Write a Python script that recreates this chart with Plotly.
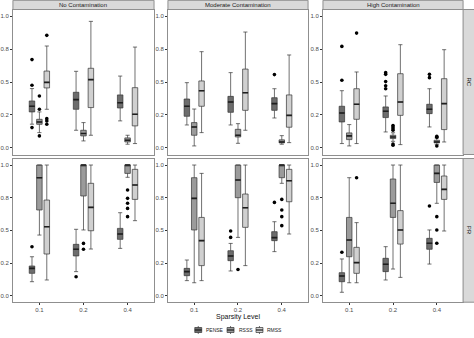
import plotly.graph_objects as go

# ---- data ---------------------------------------------------------------
sparsity = ["0.1", "0.2", "0.4"]
methods = ["PENSE", "RSSS", "RMSS"]
contamination = ["No Contamination", "Moderate Contamination", "High Contamination"]
metrics = ["RC", "PR"]

# five-number summaries per sparsity level: [lower whisker, Q1, median, Q3, upper whisker]
rc_none = {
    "PENSE": [[0.180, 0.273, 0.316, 0.356, 0.450], [0.134, 0.293, 0.366, 0.422, 0.581], [0.205, 0.303, 0.343, 0.402, 0.545]],
    "RSSS": [[0.116, 0.179, 0.197, 0.217, 0.273], [0.053, 0.091, 0.109, 0.134, 0.192], [0.028, 0.045, 0.058, 0.076, 0.096]],
    "RMSS": [[0.293, 0.455, 0.497, 0.583, 0.773], [0.096, 0.306, 0.518, 0.604, 0.960], [0.033, 0.167, 0.255, 0.457, 0.765]],
}
rc_moderate = {
    "PENSE": [[0.174, 0.240, 0.316, 0.371, 0.495], [0.174, 0.270, 0.348, 0.391, 0.571], [0.227, 0.285, 0.336, 0.381, 0.449]],
    "RSSS": [[0.015, 0.096, 0.159, 0.192, 0.295], [0.035, 0.083, 0.096, 0.141, 0.184], [0.028, 0.038, 0.045, 0.061, 0.093]],
    "RMSS": [[0.116, 0.316, 0.434, 0.508, 0.730], [0.134, 0.285, 0.419, 0.598, 0.879], [0.040, 0.157, 0.247, 0.402, 0.705]],
}
rc_high = {
    "PENSE": [[0.033, 0.197, 0.265, 0.316, 0.434], [0.121, 0.230, 0.278, 0.311, 0.394], [0.159, 0.260, 0.293, 0.331, 0.449]],
    "RSSS": [[0.015, 0.063, 0.091, 0.114, 0.177], [0.050, 0.071, 0.083, 0.096, 0.115], [0.025, 0.038, 0.045, 0.058, 0.075]],
    "RMSS": [[0.033, 0.217, 0.331, 0.449, 0.576], [0.025, 0.247, 0.348, 0.563, 0.783], [0.045, 0.139, 0.336, 0.525, 0.745]],
}
pr_none = {
    "PENSE": [[0.107, 0.171, 0.209, 0.227, 0.298], [0.184, 0.304, 0.355, 0.393, 0.508], [0.362, 0.431, 0.472, 0.515, 0.635]],
    "RSSS": [[0.464, 0.656, 0.903, 1.000, 1.000], [0.503, 0.763, 1.000, 1.000, 1.000], [0.906, 0.936, 1.000, 1.000, 1.000]],
    "RMSS": [[0.120, 0.319, 0.528, 0.732, 1.000], [0.357, 0.497, 0.676, 0.860, 1.000], [0.574, 0.737, 0.847, 0.967, 1.000]],
}
pr_moderate = {
    "PENSE": [[0.115, 0.153, 0.184, 0.209, 0.273], [0.189, 0.268, 0.304, 0.344, 0.400], [0.337, 0.421, 0.444, 0.490, 0.566]],
    "RSSS": [[0.099, 0.503, 0.745, 0.903, 1.000], [0.446, 0.750, 0.885, 1.000, 1.000], [0.860, 0.903, 1.000, 1.000, 1.000]],
    "RMSS": [[0.115, 0.230, 0.421, 0.599, 0.936], [0.230, 0.523, 0.673, 0.778, 1.000], [0.472, 0.719, 0.880, 0.967, 1.000]],
}
pr_high = {
    "PENSE": [[0.026, 0.107, 0.151, 0.176, 0.281], [0.120, 0.184, 0.240, 0.286, 0.375], [0.242, 0.355, 0.401, 0.439, 0.503]],
    "RSSS": [[0.099, 0.298, 0.426, 0.599, 0.903], [0.204, 0.599, 0.707, 0.893, 1.000], [0.707, 0.867, 0.936, 1.000, 1.000]],
    "RMSS": [[0.099, 0.171, 0.253, 0.370, 0.559], [0.140, 0.395, 0.503, 0.651, 1.000], [0.495, 0.737, 0.814, 0.916, 1.000]],
}

# outlying points: (method, sparsity index, value)
rc_none_out = [("PENSE", 0, 0.670), ("PENSE", 0, 0.475), ("PENSE", 0, 0.154),
               ("RSSS", 0, 0.394), ("RSSS", 0, 0.293), ("RSSS", 0, 0.091),
               ("RMSS", 0, 0.854), ("RMSS", 0, 0.222), ("RMSS", 0, 0.205), ("RMSS", 0, 0.179)]
rc_moderate_out = [("PENSE", 2, 0.556)]
rc_high_out = [("PENSE", 0, 0.770), ("PENSE", 0, 0.513), ("RMSS", 0, 0.871),
               ("PENSE", 1, 0.571), ("PENSE", 1, 0.558), ("PENSE", 1, 0.503), ("PENSE", 1, 0.472), ("PENSE", 1, 0.449),
               ("RSSS", 1, 0.170), ("RSSS", 1, 0.158), ("RSSS", 1, 0.146), ("RSSS", 1, 0.134), ("RSSS", 1, 0.030), ("RSSS", 1, 0.020),
               ("PENSE", 2, 0.558), ("PENSE", 2, 0.533),
               ("RSSS", 2, 0.088), ("RSSS", 2, 0.080), ("RSSS", 2, 0.015)]
pr_none_out = [("PENSE", 0, 0.375), ("PENSE", 1, 0.145), ("RSSS", 1, 0.400), ("RSSS", 1, 0.355),
               ("RSSS", 2, 0.809), ("RSSS", 2, 0.745), ("RSSS", 2, 0.707), ("RSSS", 2, 0.668), ("RSSS", 2, 0.605)]
pr_moderate_out = [("PENSE", 1, 0.495), ("PENSE", 1, 0.446), ("RSSS", 1, 0.200),
                   ("PENSE", 2, 0.714), ("RSSS", 2, 0.737), ("RSSS", 2, 0.656), ("RSSS", 2, 0.605), ("RSSS", 2, 0.536)]
pr_high_out = [("PENSE", 0, 0.332), ("RMSS", 0, 0.903),
               ("PENSE", 2, 0.686), ("RSSS", 2, 0.605), ("RSSS", 2, 0.503), ("RSSS", 2, 0.401)]

y_tickvals = [0.0, 0.25, 0.5, 0.75, 1.0]
y_ticktext = ["0.0", "0.2", "0.5", "0.8", "1.0"]

panels = [[rc_none, rc_moderate, rc_high], [pr_none, pr_moderate, pr_high]]
outliers = [[rc_none_out, rc_moderate_out, rc_high_out], [pr_none_out, pr_moderate_out, pr_high_out]]

# ---- styling ------------------------------------------------------------
fills = {"PENSE": "#6d6d6d", "RSSS": "#9b9b9b", "RMSS": "#d0d0d0"}
dodge = {"PENSE": -0.168, "RSSS": 0.0, "RMSS": 0.168}
box_w = 0.125
edge = "#333333"
border = "#8f8f8f"
strip_fill = "#d9d9d9"

W, H = 474, 338
col_px = [(10, 152), (166, 307), (322, 463)]
row_px = [(9.5, 154.5), (158.5, 302.2)]


def fx(px):
    return px / W


def fy(py):
    return 1 - py / H


fig = go.Figure()
layout_axes = {}
shapes = []
annotations = []

for r, metric in enumerate(metrics):
    for c, cont in enumerate(contamination):
        k = r * 3 + c + 1
        xa = "x" if k == 1 else f"x{k}"
        ya = "y" if k == 1 else f"y{k}"
        stats = panels[r][c]
        for m in methods:
            s = stats[m]
            xs = [i + 1 + dodge[m] for i in range(len(sparsity))]
            fig.add_trace(go.Box(
                x=xs,
                lowerfence=[v[0] for v in s], q1=[v[1] for v in s], median=[v[2] for v in s],
                q3=[v[3] for v in s], upperfence=[v[4] for v in s],
                width=box_w, whiskerwidth=0.75, boxpoints=False,
                fillcolor=fills[m], line=dict(color=edge, width=0.7),
                xaxis=xa, yaxis=ya, showlegend=False, hoverinfo="skip",
            ))
            # heavier median bar
            mx, my = [], []
            for x0, v in zip(xs, s):
                mx += [x0 - box_w / 2, x0 + box_w / 2, None]
                my += [v[2], v[2], None]
            fig.add_trace(go.Scatter(x=mx, y=my, mode="lines",
                                     line=dict(color="#1e1e1e", width=1.6),
                                     xaxis=xa, yaxis=ya, showlegend=False, hoverinfo="skip"))
        pts = outliers[r][c]
        if pts:
            fig.add_trace(go.Scatter(
                x=[i + 1 + dodge[m] for m, i, v in pts], y=[v for m, i, v in pts],
                mode="markers", marker=dict(color="black", size=3.6),
                xaxis=xa, yaxis=ya, showlegend=False, hoverinfo="skip"))

        x0, x1 = col_px[c]
        y0, y1 = row_px[r]
        key_x = "xaxis" if k == 1 else f"xaxis{k}"
        key_y = "yaxis" if k == 1 else f"yaxis{k}"
        layout_axes[key_x] = dict(
            domain=[fx(x0), fx(x1)], anchor=ya, range=[0.4, 3.6],
            tickvals=[1, 2, 3], ticktext=sparsity if r == 1 else ["", "", ""],
            showticklabels=(r == 1), ticks="outside" if r == 1 else "", ticklen=2,
            tickcolor="#333333", tickfont=dict(size=6, color="#4d4d4d", family="Liberation Sans"),
            showline=True, mirror=True, linecolor=border, linewidth=1,
            showgrid=False, zeroline=False,
        )
        layout_axes[key_y] = dict(
            domain=[fy(y1), fy(y0)], anchor=xa, range=[-0.05, 1.05],
            tickvals=y_tickvals, ticktext=y_ticktext, ticks="outside", ticklen=2,
            tickcolor="#333333", tickfont=dict(size=6, color="#4d4d4d", family="Liberation Sans"),
            showline=True, mirror=True, linecolor=border, linewidth=1,
            showgrid=False, zeroline=False,
        )

# column strips
for c, cont in enumerate(contamination):
    x0, x1 = col_px[c]
    shapes.append(dict(type="rect", xref="paper", yref="paper",
                       x0=fx(x0), x1=fx(x1), y0=fy(9.5), y1=fy(0.3),
                       fillcolor=strip_fill, line=dict(color=border, width=1)))
    annotations.append(dict(text=cont, xref="paper", yref="paper",
                            x=fx((x0 + x1) / 2), y=fy(5), showarrow=False,
                            font=dict(size=6, color="#1a1a1a", family="Liberation Sans"),
                            xanchor="center", yanchor="middle"))

# row strips
for r, metric in enumerate(metrics):
    y0, y1 = row_px[r]
    shapes.append(dict(type="rect", xref="paper", yref="paper",
                       x0=fx(463), x1=fx(475), y0=fy(y1), y1=fy(y0),
                       fillcolor=strip_fill, line=dict(color=border, width=1)))
    annotations.append(dict(text=metric, xref="paper", yref="paper",
                            x=fx(468.5), y=fy((y0 + y1) / 2), showarrow=False, textangle=90,
                            font=dict(size=6, color="#1a1a1a", family="Liberation Sans"),
                            xanchor="center", yanchor="middle"))

# x-axis title
annotations.append(dict(text="Sparsity Level", xref="paper", yref="paper",
                        x=fx(236.5), y=fy(317), showarrow=False,
                        font=dict(size=7, color="#111111", family="Liberation Sans"),
                        xanchor="center", yanchor="middle"))

# legend drawn as small box glyphs with labels
leg_y = 330
leg_x = 193
for m in methods:
    shapes.append(dict(type="line", xref="paper", yref="paper",
                       x0=fx(leg_x + 3.5), x1=fx(leg_x + 3.5), y0=fy(326), y1=fy(334),
                       line=dict(color=edge, width=0.7)))
    shapes.append(dict(type="rect", xref="paper", yref="paper",
                       x0=fx(leg_x), x1=fx(leg_x + 7), y0=fy(332.5), y1=fy(327.5),
                       fillcolor=fills[m], line=dict(color=edge, width=0.7)))
    shapes.append(dict(type="line", xref="paper", yref="paper",
                       x0=fx(leg_x), x1=fx(leg_x + 7), y0=fy(leg_y), y1=fy(leg_y),
                       line=dict(color="#1e1e1e", width=1.2)))
    annotations.append(dict(text=m, xref="paper", yref="paper",
                            x=fx(leg_x + 9.5), y=fy(leg_y), showarrow=False,
                            font=dict(size=5, color="#1a1a1a", family="Liberation Sans"),
                            xanchor="left", yanchor="middle"))
    leg_x += 9.5 + len(m) * 3.4 + 6

fig.update_layout(
    width=W, height=H, margin=dict(l=0, r=0, t=0, b=0),
    paper_bgcolor="white", plot_bgcolor="white",
    showlegend=False, shapes=shapes, annotations=annotations,
    **layout_axes,
)

fig.write_html("out.html")
